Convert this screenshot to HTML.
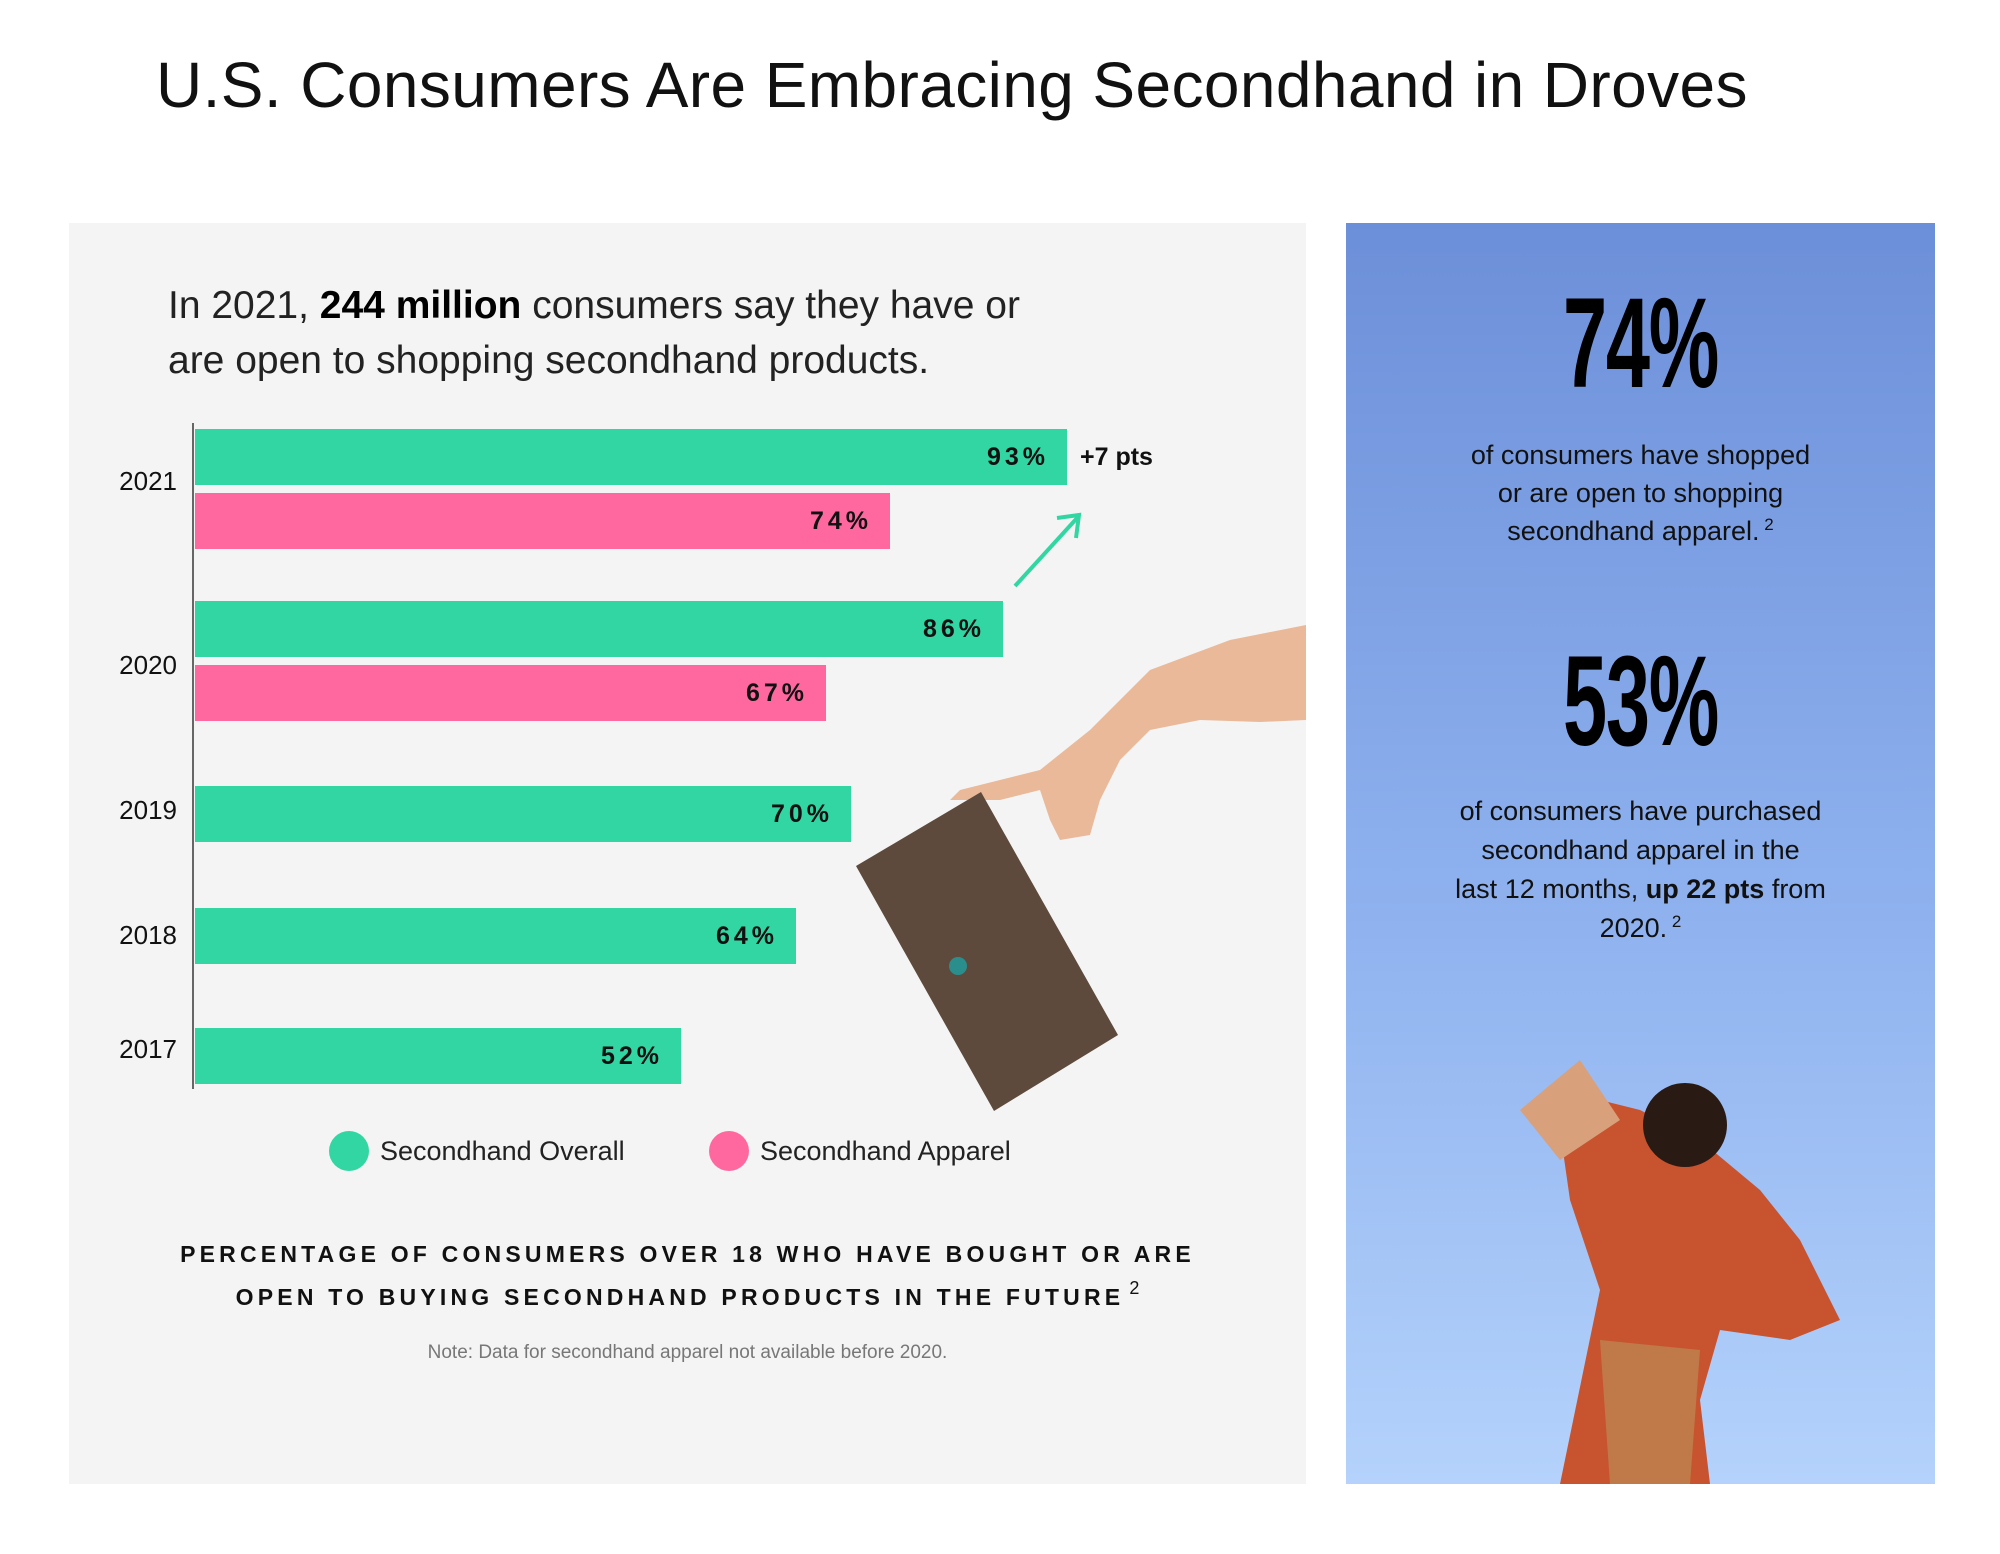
<!DOCTYPE html>
<html><head><meta charset="utf-8"><style>
body{margin:0;width:2000px;height:1554px;background:#fff;position:relative;overflow:hidden;font-family:"Liberation Sans",sans-serif;color:#111}
.a{position:absolute;white-space:nowrap}
.bar{position:absolute;left:195px;height:56px}
.g{background:#31d6a2}.p{background:#ff689f}
.v{position:absolute;right:18px;top:0;line-height:56px;font-weight:bold;font-size:25px;letter-spacing:4px}
.yr{position:absolute;width:80px;left:97px;text-align:right;font-size:26px}
.rt{position:absolute;left:1346px;width:589px;text-align:center;font-size:27px;line-height:38px;color:#111}
.big{position:absolute;left:1346px;width:589px;text-align:center;font-family:"Liberation Sans Narrow","Liberation Sans",sans-serif;font-weight:bold;font-size:128px;transform:scaleX(0.62);letter-spacing:-2px;color:#000}
sup{line-height:0;vertical-align:0;position:relative;top:-0.6em}
</style></head><body>
<div class="a" style="left:156px;top:48px;font-size:64px;letter-spacing:0.4px;color:#111">U.S. Consumers Are Embracing Secondhand in Droves</div>
<div class="a" style="left:69px;top:223px;width:1237px;height:1261px;background:#f4f4f4"></div>
<div class="a" style="left:1346px;top:223px;width:589px;height:1261px;background:linear-gradient(#6c8fd9,#8fb2ef 55%,#b4d2fb)"></div>
<div class="a" style="left:168px;top:278px;font-size:39px;line-height:55px;color:#222">In 2021, <b style="color:#000">244 million</b> consumers say they have or<br>are open to shopping secondhand products.</div>
<div class="a" style="left:192px;top:423px;width:2px;height:666px;background:#666"></div>
<svg class="a" style="left:0;top:0" width="2000" height="1554">
<polygon points="1306,625 1230,640 1150,670 1090,730 1040,770 960,790 950,800 1000,800 1040,790 1050,820 1060,840 1090,835 1100,800 1120,760 1150,730 1200,720 1260,722 1306,720" fill="#e9b99a"/>
<polygon points="856,866 981,792 1118,1035 994,1111" fill="#5d4a3c"/>
<circle cx="958" cy="966" r="9" fill="#2a8f8c"/>
<polygon points="1560,1484 1600,1290 1570,1200 1560,1130 1600,1100 1640,1110 1700,1140 1760,1190 1800,1240 1840,1320 1790,1340 1720,1330 1700,1400 1710,1484" fill="#c8532f"/>
<polygon points="1600,1340 1700,1350 1690,1484 1610,1484" fill="#c07a4a"/>
<circle cx="1685" cy="1125" r="42" fill="#2a1a14"/>
<polygon points="1520,1110 1580,1060 1620,1120 1560,1160" fill="#d9a07c"/>
<line x1="1015" y1="586" x2="1078" y2="517" stroke="#31d6a2" stroke-width="4"/>
<polyline points="1057,518 1079,515 1076,538" fill="none" stroke="#31d6a2" stroke-width="4"/>
</svg>
<div class="bar g" style="top:429px;width:872px"><span class="v">93%</span></div>
<div class="bar p" style="top:493px;width:695px"><span class="v">74%</span></div>
<div class="bar g" style="top:601px;width:808px"><span class="v">86%</span></div>
<div class="bar p" style="top:665px;width:631px"><span class="v">67%</span></div>
<div class="bar g" style="top:786px;width:656px"><span class="v">70%</span></div>
<div class="bar g" style="top:908px;width:601px"><span class="v">64%</span></div>
<div class="bar g" style="top:1028px;width:486px"><span class="v">52%</span></div>
<div class="a" style="left:1080px;top:443px;font-size:25px;font-weight:bold">+7 pts</div>
<div class="yr" style="top:466px">2021</div>
<div class="yr" style="top:650px">2020</div>
<div class="yr" style="top:795px">2019</div>
<div class="yr" style="top:920px">2018</div>
<div class="yr" style="top:1034px">2017</div>
<div class="a" style="left:329px;top:1131px;width:40px;height:40px;border-radius:50%;background:#31d6a2"></div>
<div class="a" style="left:380px;top:1136px;font-size:27px;color:#222">Secondhand Overall</div>
<div class="a" style="left:709px;top:1131px;width:40px;height:40px;border-radius:50%;background:#ff689f"></div>
<div class="a" style="left:760px;top:1136px;font-size:27px;color:#222">Secondhand Apparel</div>
<div class="a" style="left:69px;width:1237px;top:1233px;text-align:center;font-size:23px;font-weight:bold;letter-spacing:4.2px;line-height:43px">PERCENTAGE OF CONSUMERS OVER 18 WHO HAVE BOUGHT OR ARE<br>OPEN TO BUYING SECONDHAND PRODUCTS IN THE FUTURE<sup style="font-weight:normal;font-size:18px;letter-spacing:0"> 2</sup></div>
<div class="a" style="left:69px;width:1237px;top:1342px;text-align:center;font-size:19px;color:#777">Note: Data for secondhand apparel not available before 2020.</div>
<div class="big" style="top:270px">74%</div>
<div class="rt" style="top:436px">of consumers have shopped<br>or are open to shopping<br>secondhand apparel.<sup style="font-size:17px"> 2</sup></div>
<div class="big" style="top:628px">53%</div>
<div class="rt" style="top:792px;line-height:39px">of consumers have purchased<br>secondhand apparel in the<br>last 12 months, <b>up 22 pts</b> from<br>2020.<sup style="font-size:17px"> 2</sup></div>
</body></html>
